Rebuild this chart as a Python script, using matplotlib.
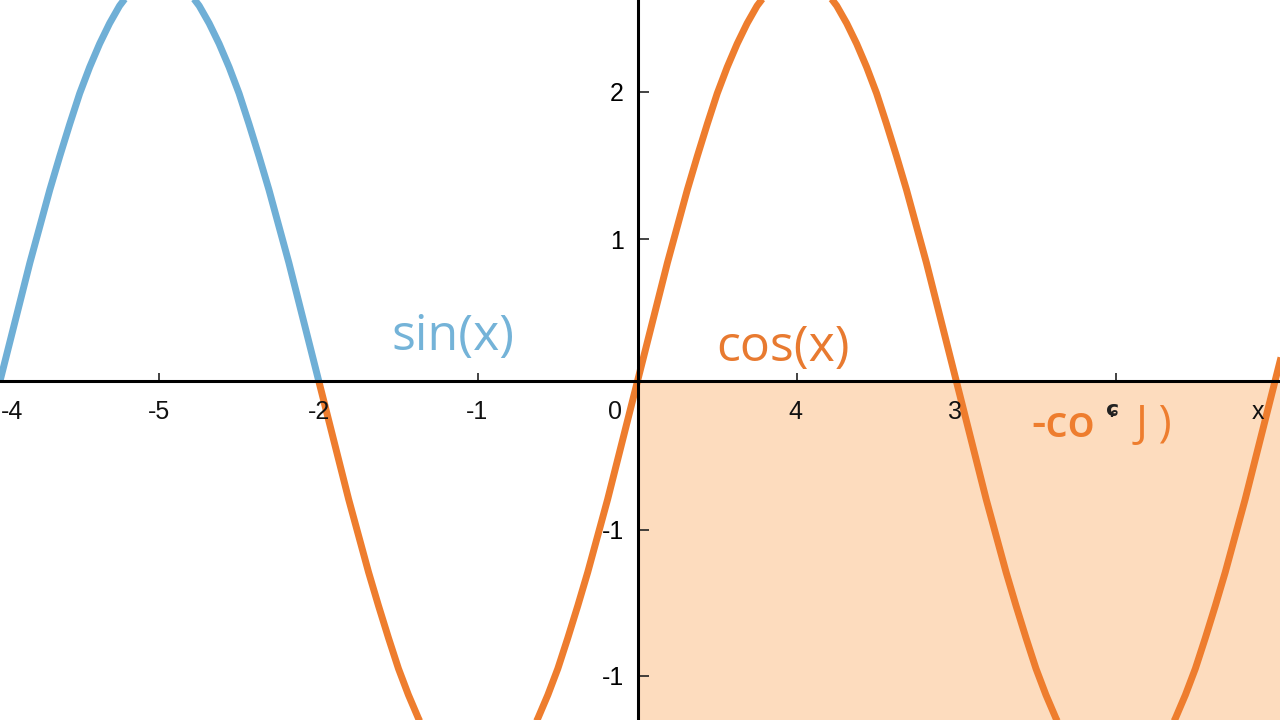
import matplotlib
matplotlib.use("Agg")
import matplotlib.pyplot as plt

# ---- data ----
blue_x = [-4.0, -3.9375, -3.875, -3.8125, -3.75, -3.6875, -3.625, -3.5625, -3.5,
          -3.4375, -3.375, -3.3125, -3.25, -3.1875, -3.125, -3.0625, -3.0,
          -2.9375, -2.875, -2.8125, -2.75, -2.6875, -2.625, -2.5625, -2.5,
          -2.4375, -2.375, -2.3125, -2.25, -2.1875, -2.125, -2.0625, -2.0]
blue_y = [0.0, 0.27, 0.54, 0.81, 1.06, 1.31, 1.54, 1.76, 1.97,
          2.15, 2.31, 2.45, 2.57, 2.66, 2.73, 2.77, 2.78,
          2.77, 2.73, 2.66, 2.57, 2.45, 2.31, 2.15, 1.97,
          1.76, 1.54, 1.31, 1.06, 0.81, 0.54, 0.27, 0.0]

orange_x = [-2.0, -1.9375, -1.875, -1.8125, -1.75, -1.6875, -1.625, -1.5625, -1.5,
            -1.4375, -1.375, -1.3125, -1.25, -1.1875, -1.125, -1.0625, -1.0,
            -0.9375, -0.875, -0.8125, -0.75, -0.6875, -0.625, -0.5625, -0.5,
            -0.4375, -0.375, -0.3125, -0.25, -0.1875, -0.125, -0.0625, 0.0,
            0.0625, 0.125, 0.1875, 0.25, 0.3125, 0.375, 0.4375, 0.5,
            0.5625, 0.625, 0.6875, 0.75, 0.8125, 0.875, 0.9375, 1.0,
            1.0625, 1.125, 1.1875, 1.25, 1.3125, 1.375, 1.4375, 1.5,
            1.5625, 1.625, 1.6875, 1.75, 1.8125, 1.875, 1.9375, 2.0,
            2.0625, 2.125, 2.1875, 2.25, 2.3125, 2.375, 2.4375, 2.5,
            2.5625, 2.625, 2.6875, 2.75, 2.8125, 2.875, 2.9375, 3.0,
            3.0625, 3.125, 3.1875, 3.25, 3.3125, 3.375, 3.4375, 3.5,
            3.5625, 3.625, 3.6875, 3.75, 3.8125, 3.875, 3.9375, 4.0,
            4.0625, 4.125]
orange_y = [0.0, -0.27, -0.54, -0.81, -1.06, -1.31, -1.54, -1.76, -1.97,
            -2.15, -2.31, -2.45, -2.57, -2.66, -2.73, -2.77, -2.78,
            -2.77, -2.73, -2.66, -2.57, -2.45, -2.31, -2.15, -1.97,
            -1.76, -1.54, -1.31, -1.06, -0.81, -0.54, -0.27, 0.0,
            0.27, 0.54, 0.81, 1.06, 1.31, 1.54, 1.76, 1.97,
            2.15, 2.31, 2.45, 2.57, 2.66, 2.73, 2.77, 2.80,
            2.77, 2.73, 2.66, 2.57, 2.45, 2.31, 2.15, 1.97,
            1.76, 1.54, 1.31, 1.06, 0.81, 0.54, 0.27, 0.0,
            -0.27, -0.54, -0.81, -1.06, -1.31, -1.54, -1.76, -1.97,
            -2.15, -2.31, -2.45, -2.57, -2.66, -2.73, -2.77, -2.78,
            -2.77, -2.73, -2.66, -2.57, -2.45, -2.31, -2.15, -1.97,
            -1.76, -1.54, -1.31, -1.06, -0.81, -0.54, -0.27, 0.0,
            0.27, 0.54]

x_tick_pos = [-4, -3, -2, -1, 0, 1, 2, 3, 4]
x_label_pos = [-3.925, -3.0, -2.0, -1.01, -0.14, 0.99, 1.99, 2.99, 3.89]
x_labels = ["-4", "-5", "-2", "-1", "0", "4", "3", "", "x"]

y_tick_pos = [1.98, 0.97, -1.02, -2.02]
y_labels = ["2", "1", "-1", "-1"]

BLUE = "#6FAFD6"
ORANGE = "#EE7D2E"
PEACH = "#FDDCBE"

fig = plt.figure(figsize=(12.8, 7.2), dpi=100)
ax = fig.add_axes([0, 0, 1, 1])
XMIN, XMAX = -3.969, 4.031
YMIN, YMAX = -2.322, 2.610
ax.set_xlim(XMIN, XMAX)
ax.set_ylim(YMIN, YMAX)

# shaded quadrant
ax.axvspan(0, XMAX, ymin=0, ymax=(0 - YMIN) / (YMAX - YMIN), color=PEACH, lw=0, zorder=0)

# curves
ax.plot(blue_x, blue_y, color=BLUE, lw=5, solid_capstyle="butt",
        solid_joinstyle="round", zorder=3)
ax.plot(orange_x, orange_y, color=ORANGE, lw=5, solid_capstyle="butt",
        solid_joinstyle="round", zorder=4)

# axes through origin
for s in ["top", "right"]:
    ax.spines[s].set_visible(False)
ax.spines["left"].set_position(("data", 0))
ax.spines["bottom"].set_position(("data", 0))
ax.spines["left"].set_linewidth(2.2)
ax.spines["bottom"].set_linewidth(2.2)
ax.spines["left"].set_zorder(5)
ax.spines["bottom"].set_zorder(5)

ax.set_xticks(x_tick_pos)
ax.set_xticklabels([])
ax.tick_params(axis="x", direction="in", length=6, width=1.2, color="#222222")
ax.set_yticks(y_tick_pos)
ax.set_yticklabels(y_labels, fontsize=18, family="Liberation Sans")
ax.tick_params(axis="y", direction="in", length=8, width=1.2, color="#222222", pad=10)

for xp, lab in zip(x_label_pos, x_labels):
    ax.text(xp, -0.212, lab, fontsize=18, family="Liberation Sans",
            ha="center", va="center", color="#111111", zorder=6)

# curve labels
ax.text(-1.156, (381 - 337) / 146, "sin(x)", fontsize=36, family="Open Sans",
        color="#74B3D8", ha="center", va="center", zorder=6)
ax.text(0.91, (381 - 348) / 146, "cos(x)", fontsize=36, family="Open Sans",
        color="#E87A30", ha="center", va="center", zorder=6)

# garbled third label
ax.text(2.67, (381 - 425) / 146, "-co", fontsize=32, family="Open Sans", weight="semibold",
        color=ORANGE, ha="center", va="center", zorder=6)
ax.text(2.98, (381 - 410) / 146, "ɕ", fontsize=16, family="DejaVu Sans", weight="bold",
        color="#222222", ha="center", va="center", zorder=7)
ax.text(3.24, (381 - 425) / 146, "J )", fontsize=32, family="Open Sans",
        color=ORANGE, ha="center", va="center", zorder=6)

fig.savefig("out.png", dpi=100)
